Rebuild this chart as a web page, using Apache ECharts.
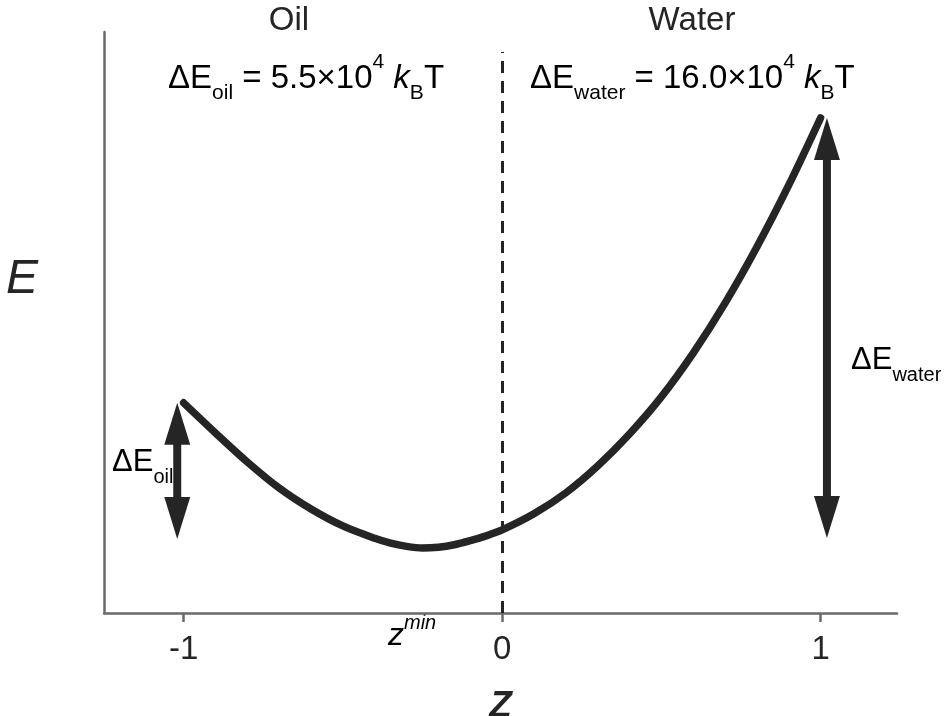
<!DOCTYPE html>
<html>
<head>
<meta charset="utf-8">
<script src="https://cdn.jsdelivr.net/npm/echarts@6/dist/echarts.min.js"></script>
<style>
  html, body { margin: 0; padding: 0; background: #fff; }
  #chart { width: 946px; height: 716px; }
</style>
</head>
<body>
<div id="chart"></div>
<script>
// energy profile E(z), E in units of 10^4 kBT measured from the minimum
const curveZ = [-1, -0.9, -0.8, -0.7, -0.6, -0.5, -0.4, -0.35, -0.3, -0.25, -0.2, -0.15, -0.1, -0.05, 0,
  0.1, 0.2, 0.3, 0.4, 0.5, 0.6, 0.7, 0.8, 0.9, 1];
const curveE = [5.4, 4.28, 3.2, 2.23, 1.45, 0.82, 0.36, 0.18, 0.06, 0.0, 0.03, 0.12, 0.27, 0.45, 0.67,
  1.27, 2.05, 3.05, 4.24, 5.62, 7.25, 9.11, 11.2, 13.5, 16.0];

// double arrows for the two barriers
const arrowZ = [-1.02, 1.02];
const arrowTop = [5.4, 16.0];
const arrowBottom = [0.33, 0.37];

const xTicks = [-1, 0, 1];
const dividerZ = 0;
const dividerTop = 18.46;

const xMin = -1.25, xMax = 1.24;
const yMin = -2.42, yMax = 19.2;

const font = "'Liberation Sans', Arial, sans-serif";
const ink = '#252525';
const axisGray = '#6a6a6a';

const rich = {
  m: { fontSize: 33, lineHeight: 36, padding: [10, 0, 0, 0], verticalAlign: 'top', fontFamily: font, color: ink },
  k: { fontSize: 33, lineHeight: 36, padding: [10, 0, 0, 0], verticalAlign: 'top', fontFamily: font, color: ink, fontStyle: 'italic' },
  s: { fontSize: 21, lineHeight: 21, padding: [31, 0, 0, 0], verticalAlign: 'top', fontFamily: font, color: ink },
  p: { fontSize: 21, lineHeight: 17, padding: [0, 0, 0, 0], verticalAlign: 'top', fontFamily: font, color: ink },
  lm: { fontSize: 31, lineHeight: 34, padding: [10, 0, 0, 0], verticalAlign: 'top', fontFamily: font, color: ink },
  ls: { fontSize: 20, lineHeight: 20, padding: [30, 0, 0, 0], verticalAlign: 'top', fontFamily: font, color: ink },
  z: { fontSize: 32, lineHeight: 32, padding: [7, 0, 0, 0], verticalAlign: 'top', fontFamily: font, color: ink, fontStyle: 'italic' },
  zm: { fontSize: 20, lineHeight: 20, padding: [0, 0, 0, 0], verticalAlign: 'top', fontFamily: font, color: ink, fontStyle: 'italic' }
};

function richText(x, y, text) {
  return { type: 'text', left: x, top: y, style: { text: text, rich: rich } };
}

function plainText(x, y, text, size, extra) {
  return {
    type: 'text', x: x, y: y,
    style: Object.assign({ text: text, fontSize: size, fontFamily: font, fill: ink,
      align: 'center', verticalAlign: 'middle' }, extra || {})
  };
}

function renderArrow(params, api) {
  const top = api.coord([api.value(0), api.value(1)]);
  const bot = api.coord([api.value(0), api.value(2)]);
  const x = top[0];
  const hw = 13, hl = 42;
  return {
    type: 'group',
    children: [
      { type: 'line', shape: { x1: x, y1: top[1] + hl - 6, x2: x, y2: bot[1] - hl + 6 },
        style: { stroke: ink, lineWidth: 8 } },
      { type: 'polygon', shape: { points: [[x, top[1]], [x + hw, top[1] + hl], [x - hw, top[1] + hl]] },
        style: { fill: ink } },
      { type: 'polygon', shape: { points: [[x, bot[1]], [x + hw, bot[1] - hl], [x - hw, bot[1] - hl]] },
        style: { fill: ink } }
    ]
  };
}

const chart = echarts.init(document.getElementById('chart'));

const option = {
  animation: false,
  backgroundColor: '#fff',
  grid: { left: 104, right: 49, top: 32, bottom: 103, outerBoundsMode: 'none', containLabel: false },
  xAxis: {
    type: 'value', min: xMin, max: xMax,
    name: 'Z', nameLocation: 'middle', nameGap: 75,
    nameTextStyle: { fontSize: 37, fontStyle: 'italic', fontWeight: 'bold', fontFamily: font, color: ink },
    axisLine: { onZero: false, lineStyle: { color: axisGray, width: 2.5 } },
    axisTick: { customValues: xTicks, length: 9, lineStyle: { color: axisGray, width: 2.5 } },
    axisLabel: { customValues: xTicks, fontSize: 33, fontFamily: font, color: ink, margin: 20 },
    splitLine: { show: false }
  },
  yAxis: {
    type: 'value', min: yMin, max: yMax,
    axisLine: { show: true, onZero: false, lineStyle: { color: axisGray, width: 2.5 } },
    axisTick: { show: false },
    axisLabel: { show: false },
    splitLine: { show: false }
  },
  series: [
    {
      type: 'line',
      data: curveZ.map((z, i) => [z, curveE[i]]),
      smooth: 0.3,
      showSymbol: false,
      lineStyle: { color: ink, width: 7.5, cap: 'round', join: 'round' },
      markLine: {
        silent: true,
        symbol: ['none', 'none'],
        label: { show: false },
        lineStyle: { color: ink, width: 3, type: [12, 8] },
        data: [[{ coord: [dividerZ, yMin] }, { coord: [dividerZ, dividerTop] }]]
      }
    },
    {
      type: 'custom',
      renderItem: renderArrow,
      data: arrowZ.map((z, i) => [z, arrowTop[i], arrowBottom[i]]),
      encode: { x: 0, y: [1, 2] },
      silent: true
    }
  ],
  graphic: [
    plainText(289, 21, 'Oil', 33),
    plainText(692, 21, 'Water', 33),
    richText(168, 52, '{m|ΔE}{s|oil}{m| = 5.5×10}{p|4}{m| }{k|k}{s|B}{m|T}'),
    richText(530, 52, '{m|ΔE}{s|water}{m| = 16.0×10}{p|4}{m| }{k|k}{s|B}{m|T}'),
    richText(851, 335, '{lm|ΔE}{ls|water}'),
    richText(112, 437, '{lm|ΔE}{ls|oil}'),
    richText(388, 613, '{z|z}{zm|min}'),
    plainText(22, 280, 'E', 48, { fontStyle: 'italic' })
  ]
};

chart.setOption(option);
</script>
</body>
</html>
